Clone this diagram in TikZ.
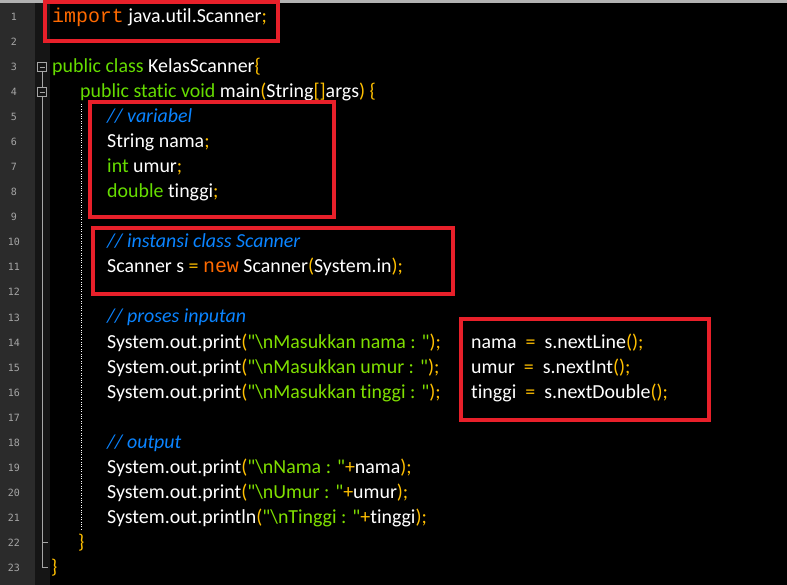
\documentclass[tikz,border=0pt]{standalone}
\usepackage{fontspec}
\setmainfont[Ligatures=NoCommon]{Carlito}
\newfontfamily\monof{Liberation Mono}
\newfontfamily\numf{DejaVu Sans Mono}
\definecolor{bgc}{HTML}{000000}
\definecolor{gut}{HTML}{2B2B2B}
\definecolor{fold}{HTML}{151515}
\definecolor{kwc}{HTML}{66DD00}
\definecolor{stc}{HTML}{80E000}
\definecolor{puc}{HTML}{FFC000}
\definecolor{cmc}{HTML}{0A84FF}
\definecolor{imc}{HTML}{FF6A00}
\definecolor{boxc}{HTML}{E8202A}
\newcommand\kw[1]{\textcolor{kwc}{#1}}
\newcommand\str[1]{\textcolor{stc}{#1}}
\newcommand\pu[1]{\textcolor{puc}{#1}}
\newcommand\cmt[1]{\textcolor{cmc}{\itshape #1}}
\newcommand\imk[1]{\textcolor{imc}{\monof #1}}
\newcommand\dq{\textquotedbl}
\begin{document}
\begin{tikzpicture}[x=1pt,y=-1pt,
  code/.style={anchor=base west,inner sep=0pt,text=white,font=\fontsize{19.9}{22}\selectfont},
  lnum/.style={anchor=base,inner sep=0pt,text=gray!70,font=\numf\fontsize{10}{11}\selectfont},
  redbox/.style={draw=boxc,line width=4pt}]
\useasboundingbox (0,0) rectangle (787,585);
\fill[bgc] (0,0) rectangle (787,585);
\fill[gray!60] (0,0) rectangle (787,3);
\fill[gut] (0,3) rectangle (35,585);
\fill[fold] (35,3) rectangle (50,585);
\foreach \i in {1,...,23}{
  \node[lnum] (n\i) at (14,{17+25*(\i-1)+4}) {\i};
}
\draw[gray!70] (42,72) -- (42,567) -- (48,567);
\draw[gray!70] (42,542) -- (48,542);
\foreach \yy in {67,92}{
  \draw[gray!70,fill=fold] (37.5,\yy-4.5) rectangle (46.5,\yy+4.5);
  \draw[gray!70] (39.5,\yy) -- (44.5,\yy);
}
\draw[white,dotted] (81,104) -- (81,529);
\def\yl#1{{17+25*(#1-1)+6}}
\node[code] (l1) at (52,\yl{1}) {\imk{import} java.util.Scanner\pu{;}};
\node[code] (l3) at (52,\yl{3}) {\kw{public class} KelasScanner\pu{\{}};
\node[code] (l4) at (80,\yl{4}) {\kw{public static void} main\pu{(}String\pu{[]}args\pu{)} \pu{\{}};
\node[code] (l5) at (107,\yl{5}) {\cmt{// variabel}};
\node[code] (l6) at (107,\yl{6}) {String nama\pu{;}};
\node[code] (l7) at (107,\yl{7}) {\kw{int} umur\pu{;}};
\node[code] (l8) at (107,\yl{8}) {\kw{double} tinggi\pu{;}};
\node[code] (l10) at (107,\yl{10}) {\cmt{// instansi class Scanner}};
\node[code] (l11) at (107,\yl{11}) {Scanner s \pu{=} \imk{new} Scanner\pu{(}System.in\pu{);}};
\node[code] (l13) at (107,\yl{13}) {\cmt{// proses inputan}};
\node[code] (l14) at (107,\yl{14}) {System.out.print\pu{(}\str{\dq\textbackslash nMasukkan nama : \dq}\pu{);}};
\node[code] (l15) at (107,\yl{15}) {System.out.print\pu{(}\str{\dq\textbackslash nMasukkan umur : \dq}\pu{);}};
\node[code] (l16) at (107,\yl{16}) {System.out.print\pu{(}\str{\dq\textbackslash nMasukkan tinggi : \dq}\pu{);}};
\node[code] (r14) at (471,\yl{14}) {nama \ \pu{=} \ s.nextLine\pu{();}};
\node[code] (r15) at (471,\yl{15}) {umur \ \pu{=} \ s.nextInt\pu{();}};
\node[code] (r16) at (471,\yl{16}) {tinggi \ \pu{=} \ s.nextDouble\pu{();}};
\node[code] (l18) at (107,\yl{18}) {\cmt{// output}};
\node[code] (l19) at (107,\yl{19}) {System.out.print\pu{(}\str{\dq\textbackslash nNama : \dq}\pu{+}nama\pu{);}};
\node[code] (l20) at (107,\yl{20}) {System.out.print\pu{(}\str{\dq\textbackslash nUmur : \dq}\pu{+}umur\pu{);}};
\node[code] (l21) at (107,\yl{21}) {System.out.println\pu{(}\str{\dq\textbackslash nTinggi : \dq}\pu{+}tinggi\pu{);}};
\node[code] (l22) at (78,\yl{22}) {\pu{\}}};
\node[code] (l23) at (51,\yl{23}) {\pu{\}}};
\draw[redbox] (45,2) rectangle (278,41);
\draw[redbox] (90,102) rectangle (334,217);
\draw[redbox] (93,228) rectangle (453,294);
\draw[redbox] (461,319) rectangle (709,420);
\end{tikzpicture}
\end{document}
